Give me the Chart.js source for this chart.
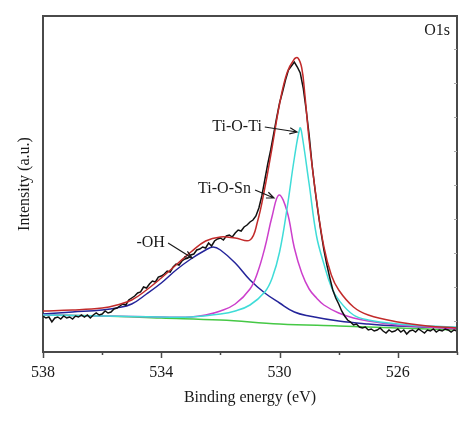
<!DOCTYPE html>
<html>
<head>
<meta charset="utf-8">
<script src="https://cdn.jsdelivr.net/npm/chart.js@4.4.1/dist/chart.umd.min.js"></script>
<style>
    html, body { margin: 0; padding: 0; background: #fff; }
</style>
</head>
<body>
<canvas id="xpsChart" width="474" height="423"></canvas>
<script>
// O1s spectrum, binding energy (eV) vs intensity (a.u.)
var rawE = [];
for (var k = 0; k <= 140; k++) rawE.push(+(538 - k * 0.1).toFixed(1));
var rawI = [
    36, 34, 35, 30, 34, 35, 33, 36, 34, 35, 33,
    36, 35, 37, 35, 37, 34, 37, 39, 37, 38,
    41, 39, 40, 43, 44, 46, 48, 47, 52, 54,
    56, 59, 60, 65, 64, 68, 71, 70, 75, 76,
    78, 81, 80, 85, 88, 87, 91, 93, 94, 97,
    98, 102, 103, 105, 104, 109, 106, 111, 113, 114,
    112, 116, 117, 115, 119, 122, 121, 125, 127, 130,
    132, 136, 144, 156, 172, 188, 202, 218, 234, 249,
    260, 272, 282, 286, 290, 285, 279, 264, 242, 217,
    187, 162, 140, 120, 102, 87, 74, 62, 54, 48,
    41, 36, 32, 30, 27, 28, 25, 24, 25, 22,
    23, 21, 22, 24, 21, 19, 22, 20, 21, 23,
    20, 22, 18, 21, 22, 20, 23, 21, 19, 22,
    21, 23, 20, 22, 21, 23, 22, 20, 22, 21
];

var fitE = [538, 537, 536, 535.5, 535, 534.5, 534, 533.5, 533, 532.5, 532, 531.5, 531, 530.75, 530.5, 530.25, 530, 529.75, 529.5, 529.38, 529.25, 529.15, 529, 528.75, 528.5, 528.25, 528, 527.5, 527, 526, 525, 524];
var fitI = [41, 42, 44, 47, 52, 62, 74, 87, 100, 111, 115, 114, 112, 130, 164, 205, 248, 279, 293, 294, 284, 259, 212, 152, 105, 77, 62, 45, 37, 30, 26, 24];

var ohE = [538, 537, 536, 535.5, 535, 534.5, 534, 533.5, 533, 532.5, 532.25, 532, 531.5, 531, 530.5, 530, 529.5, 529, 528, 527, 526, 525, 524];
var ohI = [38, 40, 42, 44, 48, 58, 69, 82, 93, 102, 105, 102, 89, 72, 59, 49, 40, 36, 31, 28, 26, 25, 24];

var snE = [538, 536, 534, 533, 532.5, 532, 531.5, 531, 530.75, 530.5, 530.25, 530.02, 529.75, 529.5, 529.25, 529, 528.75, 528.5, 528, 527.5, 527, 526, 525, 524];
var snI = [37, 36, 35, 35, 37, 41, 48, 63, 79, 104, 136, 157, 141, 104, 79, 63, 54, 47, 39, 34, 31, 27, 25, 23];

var tiE = [538, 536, 534, 533, 532, 531.5, 531, 530.5, 530.25, 530, 529.75, 529.5, 529.31, 529.25, 529, 528.75, 528.5, 528.25, 528, 527.5, 527, 526, 525, 524];
var tiI = [37, 36, 35, 35, 38, 41, 47, 60, 74, 100, 143, 194, 224, 219, 168, 116, 88, 65, 52, 37, 32, 28, 26, 25];

var bgE = [538, 536, 534, 532, 530, 528, 526, 524];
var bgI = [37, 36, 34, 32, 28, 26, 24, 22];

var xTickValues = [538, 536, 534, 532, 530, 528, 526, 524];
var xTickLabels = [538, 534, 530, 526];
var yRightTicks = [31, 65, 99, 133, 167, 201, 235, 269, 303];

var notes = [
    { text: "Ti-O-Ti", e: 530.6, i: 225, fromE: 530.5, fromI: 225, toE: 529.41, toI: 220 },
    { text: "Ti-O-Sn", e: 530.97, i: 163, fromE: 530.83, fromI: 162, toE: 530.19, toI: 154 },
    { text: "-OH", e: 533.88, i: 109, fromE: 533.77, fromI: 109, toE: 532.96, toI: 94 }
];

var serif = '"Liberation Serif", "Times New Roman", serif';

function pts(xs, ys) {
    return xs.map(function (x, idx) { return { x: x, y: ys[idx] }; });
}

function line(label, data, color, smooth) {
    return {
        label: label,
        data: data,
        borderColor: color,
        borderWidth: 1.5,
        pointRadius: 0,
        fill: false,
        tension: smooth ? 0.4 : 0
    };
}

function drawArrow(ctx, x1, y1, x2, y2) {
    var a = Math.atan2(y2 - y1, x2 - x1);
    var h = 8;
    ctx.beginPath();
    ctx.moveTo(x1, y1);
    ctx.lineTo(x2, y2);
    ctx.moveTo(x2 - h * Math.cos(a - 0.4), y2 - h * Math.sin(a - 0.4));
    ctx.lineTo(x2, y2);
    ctx.lineTo(x2 - h * Math.cos(a + 0.4), y2 - h * Math.sin(a + 0.4));
    ctx.stroke();
}

var framePlugin = {
    id: 'frame',
    afterDraw: function (chart) {
        var ctx = chart.ctx;
        var area = chart.chartArea;
        var xs = chart.scales.x;
        var ys = chart.scales.y;
        ctx.save();

        // top and right border
        ctx.strokeStyle = '#4a4a4a';
        ctx.lineWidth = 2;
        ctx.beginPath();
        ctx.moveTo(area.left, area.top);
        ctx.lineTo(area.right, area.top);
        ctx.lineTo(area.right, area.bottom);
        ctx.stroke();

        // bottom ticks, outward
        ctx.lineWidth = 1.5;
        xTickValues.forEach(function (v) {
            var px = Math.round(xs.getPixelForValue(v)) + 0.5;
            var len = xTickLabels.indexOf(v) >= 0 ? 6 : 3;
            ctx.beginPath();
            ctx.moveTo(px, area.bottom);
            ctx.lineTo(px, area.bottom + len);
            ctx.stroke();
        });

        // faint ticks on right axis
        ctx.strokeStyle = '#aaa';
        ctx.lineWidth = 1;
        yRightTicks.forEach(function (v) {
            var py = Math.round(ys.getPixelForValue(v)) + 0.5;
            ctx.beginPath();
            ctx.moveTo(area.right, py);
            ctx.lineTo(area.right - 3, py);
            ctx.stroke();
        });

        // labels and arrows
        ctx.fillStyle = '#1a1a1a';
        ctx.strokeStyle = '#1a1a1a';
        ctx.lineWidth = 1.2;
        ctx.font = '16px ' + serif;
        ctx.textAlign = 'right';
        ctx.textBaseline = 'middle';
        notes.forEach(function (n) {
            ctx.fillText(n.text, xs.getPixelForValue(n.e), ys.getPixelForValue(n.i));
            drawArrow(ctx,
                xs.getPixelForValue(n.fromE), ys.getPixelForValue(n.fromI),
                xs.getPixelForValue(n.toE), ys.getPixelForValue(n.toI));
        });

        ctx.fillText('O1s', area.right - 7, area.top + 15);
        ctx.restore();
    }
};

var chart = new Chart(document.getElementById('xpsChart').getContext('2d'), {
    type: 'line',
    data: {
        datasets: [
            line('Envelope', pts(fitE, fitI), '#c22b2b', true),
            line('Raw', pts(rawE, rawI), '#111111', false),
            line('Ti-O-Ti', pts(tiE, tiI), '#3fdcd8', true),
            line('Ti-O-Sn', pts(snE, snI), '#cc3fcc', true),
            line('-OH', pts(ohE, ohI), '#24249a', true),
            line('Background', pts(bgE, bgI), '#45c845', true)
        ]
    },
    options: {
        responsive: false,
        animation: false,
        devicePixelRatio: 1,
        layout: { padding: { top: 16, right: 17, left: 0, bottom: 0 } },
        plugins: { legend: { display: false }, tooltip: { enabled: false } },
        scales: {
            x: {
                type: 'linear',
                reverse: true,
                min: 524,
                max: 538,
                afterBuildTicks: function (scale) {
                    scale.ticks = xTickValues.map(function (v) { return { value: v }; });
                },
                afterFit: function (scale) { scale.height = 71; },
                grid: { display: false, drawTicks: false },
                border: { display: true, color: '#4a4a4a', width: 2 },
                ticks: {
                    autoSkip: false,
                    maxRotation: 0,
                    padding: 11,
                    color: '#1a1a1a',
                    font: { family: serif, size: 16 },
                    callback: function (value) {
                        return xTickLabels.indexOf(value) >= 0 ? String(value) : '';
                    }
                },
                title: {
                    display: true,
                    text: 'Binding energy (eV)',
                    color: '#1a1a1a',
                    font: { family: serif, size: 16 },
                    padding: { top: 0, bottom: 16 }
                }
            },
            y: {
                type: 'linear',
                min: 0,
                max: 336,
                afterFit: function (scale) { scale.width = 43; },
                grid: { display: false, drawTicks: false },
                border: { display: true, color: '#4a4a4a', width: 2 },
                ticks: { display: false },
                title: {
                    display: true,
                    text: 'Intensity (a.u.)',
                    color: '#1a1a1a',
                    font: { family: serif, size: 16 },
                    padding: { top: 15, bottom: 0 }
                }
            }
        }
    },
    plugins: [framePlugin]
});
</script>
</body>
</html>
